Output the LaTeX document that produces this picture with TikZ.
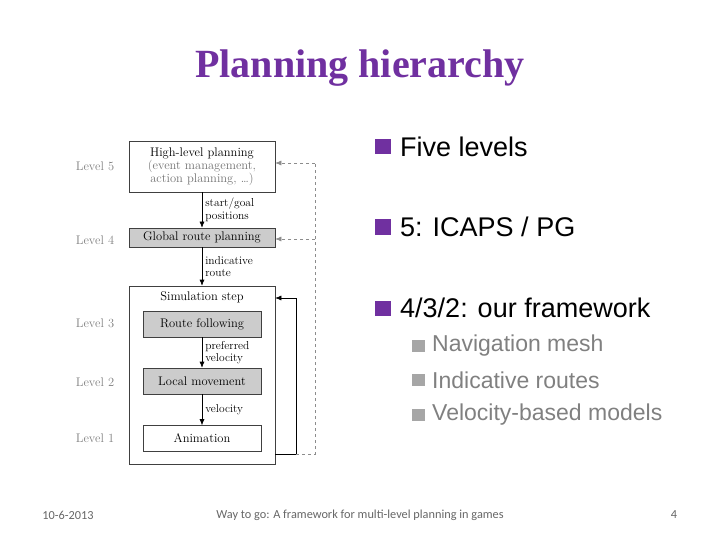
\documentclass[tikz,border=0pt]{standalone}
\usepackage{fontspec}
\newfontfamily\arialf{Liberation Sans}
\newfontfamily\timesf{Liberation Serif}
\newfontfamily\calf{Carlito}
\usetikzlibrary{arrows.meta}
\definecolor{purp}{HTML}{7030A0}
\definecolor{lvl}{gray}{0.5}
\begin{document}
\begin{tikzpicture}[x=1pt,y=-1pt,
  box/.style={draw=black!75,line width=0.6pt,minimum width=146pt,inner sep=0pt,font=\fontsize{12.5}{13}\selectfont},
  ibox/.style={draw=black!75,line width=0.6pt,minimum width=118pt,minimum height=26pt,inner sep=0pt,font=\fontsize{12.5}{13}\selectfont},
  lvlab/.style={text=lvl,font=\fontsize{12.5}{13}\selectfont},
  elab/.style={anchor=west,align=left,font=\fontsize{11.5}{12.5}\selectfont,inner sep=3pt},
  arr/.style={-{Latex[length=6pt,width=5pt]},line width=0.6pt},
  dashline/.style={dashed,draw=black!45,line width=0.6pt},
  bul/.style={anchor=west,font=\arialf\fontsize{27}{29}\selectfont,inner sep=0pt},
  sbul/.style={anchor=west,font=\arialf\fontsize{23}{25}\selectfont,text=black!50,inner sep=0pt},
  foot/.style={font=\calf\fontsize{12.3}{14}\selectfont,text=black!60}]
\useasboundingbox (0,0) rectangle (720,540);
\node[font=\timesf\bfseries\fontsize{40}{44}\selectfont,text=purp] (title) at (360,68) {Planning hierarchy};
% diagram
\node[box,minimum height=51pt,align=center] (hl) at (202,166.5) {High-level planning\\\textcolor{black!55}{(event management,}\\\textcolor{black!55}{action planning, \ldots)}};
\node[box,minimum height=19pt,fill=black!20] (gr) at (202,237.5) {Global route planning};
\node[box,minimum height=178pt] (sim) at (202,375) {};
\node[font=\fontsize{12.5}{13}\selectfont] (simt) at (202,297) {Simulation step};
\node[ibox,fill=black!20] (rf) at (202,324) {Route following};
\node[ibox,fill=black!20] (lm) at (202,381) {Local movement};
\node[ibox] (an) at (202,438.5) {Animation};
\node[lvlab] (l5) at (95,166) {Level 5};
\node[lvlab] (l4) at (95,240) {Level 4};
\node[lvlab] (l3) at (95,323) {Level 3};
\node[lvlab] (l2) at (95,382) {Level 2};
\node[lvlab] (l1) at (95,438) {Level 1};
\draw[arr] (hl) -- node[elab]{start/goal\\positions} (gr);
\draw[arr] (gr) -- node[elab]{indicative\\route} (sim);
\draw[arr] (rf) -- node[elab]{preferred\\velocity} (lm);
\draw[arr] (lm) -- node[elab]{velocity} (an);
\coordinate (fb1) at (296,454);
\coordinate (fb2) at (296,298);
\coordinate (d1) at (315,454);
\coordinate (d2) at (315,163);
\coordinate (d3) at (315,239);
\draw[line width=0.6pt] (sim.east |- fb1) -- (fb1) -- (fb2);
\draw[arr] (fb2) -- (sim.east |- fb2);
\draw[dashline] (fb1) -- (d1) -- (d2);
\draw[dashline,-{Latex[length=6pt,width=5pt]}] (d2) -- (hl.east |- d2);
\draw[dashline,-{Latex[length=6pt,width=5pt]}] (d3) -- (gr.east |- d3);
% bullets
\foreach \y/\t/\n in {147/{Five levels}/b1,227/{5: ICAPS / PG}/b2,308/{4/3/2: our framework}/b3}{
  \fill[purp] (375,\y-7.5) rectangle (391,\y+7.5);
  \node[bul] (\n) at (400,\y) {\t};}
\foreach \y/\t/\n in {346/{Navigation mesh}/s1,380/{Indicative routes}/s2,415/{Velocity-based models}/s3}{
  \fill[black!35] (412,\y-6) rectangle (425,\y+6);
  \node[sbul] (\n) at (432,\y) {\t};}
\node[foot] (f1) at (68,515) {10-6-2013};
\node[foot] (f2) at (360,515) {Way to go: A framework for multi-level planning in games};
\node[foot] (f3) at (674,515) {4};
\end{tikzpicture}
\end{document}
